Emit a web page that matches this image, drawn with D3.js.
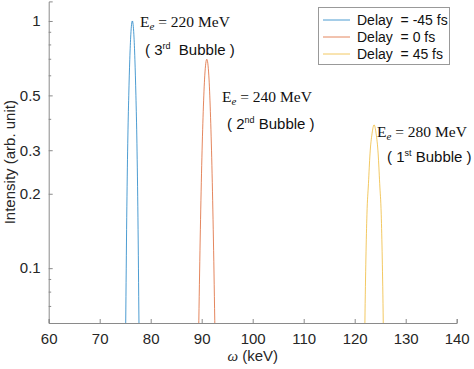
<!DOCTYPE html>
<html><head><meta charset="utf-8">
<script src="https://cdn.jsdelivr.net/npm/d3@7"></script>
<style>body{margin:0;background:#fff}svg{display:block}</style>
</head><body>
<svg id="c" width="474" height="369" font-family='"Liberation Sans",Arial,sans-serif'></svg>
<script>
// Data (omega in keV, intensity arb. unit)
const seriesNames = ["Delay  = -45 fs", "Delay  = 0 fs", "Delay  = 45 fs"];
const blueOmega  = [74.95, 75.1, 75.3, 75.5, 75.7, 75.9, 76.1, 76.4, 76.7, 76.9, 77.1, 77.3, 77.5, 77.7, 77.85];
const blueInt    = [0.03, 0.06, 0.16, 0.32, 0.5, 0.7, 0.88, 1.0, 0.88, 0.7, 0.5, 0.32, 0.16, 0.06, 0.03];
const redOmega   = [89.2, 89.4, 89.7, 90.0, 90.3, 90.6, 91.0, 91.4, 91.7, 92.0, 92.3, 92.6, 92.8];
const redInt     = [0.03, 0.055, 0.13, 0.26, 0.43, 0.6, 0.7, 0.6, 0.43, 0.26, 0.13, 0.055, 0.03];
const yellowOmega= [121.85, 122.0, 122.2, 122.4, 122.7, 123.0, 123.4, 123.8, 124.2, 124.6, 124.9, 125.2, 125.4, 125.6, 125.75];
const yellowInt  = [0.03, 0.06, 0.11, 0.165, 0.22, 0.29, 0.35, 0.38, 0.35, 0.29, 0.22, 0.165, 0.11, 0.06, 0.03];
const xTicks = [60, 70, 80, 90, 100, 110, 120, 130, 140];
const yTicks = [0.1, 0.2, 0.3, 0.5, 1];
const yTickLabels = ["0.1", "0.2", "0.3", "0.5", "1"];
const yMinorTicks = [0.07, 0.08, 0.09, 0.4, 0.6, 0.7, 0.8, 0.9];
const annotations = [
  {energy: "220", order: "3", sup: "rd", gap: "  "},
  {energy: "240", order: "2", sup: "nd", gap: " "},
  {energy: "280", order: "1", sup: "st", gap: " "}
];

const colors = ["#0072BD", "#D95319", "#EDB120"];
const svg = d3.select("#c");
const L = 48.7, R = 456.7, T = 1.4, B = 323;
const x = d3.scaleLinear().domain([60, 140]).range([L, R]);
const y = d3.scaleLog().domain([0.06, 1.2]).range([B, T]);
const axisCol = "#8a8a8a", txtCol = "#262626";
const sans = '"Liberation Sans",Arial,sans-serif';
const serif = '"Liberation Serif","DejaVu Serif",serif';

svg.append("defs").append("clipPath").attr("id", "clip")
  .append("rect").attr("x", L).attr("y", T).attr("width", R - L).attr("height", B - T);

// curves
const series = [
  d3.zip(blueOmega, blueInt), d3.zip(redOmega, redInt), d3.zip(yellowOmega, yellowInt)
];
const line = d3.line().x(d => x(d[0])).y(d => y(d[1])).curve(d3.curveMonotoneX);
svg.append("g").attr("clip-path", "url(#clip)").selectAll("path").data(series).join("path")
  .attr("d", line).attr("fill", "none").attr("stroke", (d, i) => colors[i])
  .attr("stroke-width", 1).attr("stroke-opacity", 0.7);

// x axis
const xa = svg.append("g").attr("transform", `translate(0,${B})`)
  .call(d3.axisBottom(x).tickValues(xTicks).tickSize(-4).tickPadding(7).tickFormat(d3.format("d")));
xa.attr("font-family", sans);
xa.select(".domain").attr("stroke", axisCol);
xa.selectAll(".tick line").attr("stroke", axisCol);
xa.selectAll(".tick text").attr("font-size", 15).attr("fill", txtCol).attr("y", 10);

// y axis
const ya = svg.append("g").attr("transform", `translate(${L},0)`)
  .call(d3.axisLeft(y).tickValues(yTicks).tickSize(-4).tickPadding(8).tickFormat((d, i) => yTickLabels[i]));
ya.attr("font-family", sans);
ya.select(".domain").attr("stroke", axisCol);
ya.selectAll(".tick line").attr("stroke", axisCol);
ya.selectAll(".tick text").attr("font-size", 15).attr("fill", txtCol);
ya.selectAll(".minor").data(yMinorTicks).join("line").attr("class", "minor")
  .attr("x1", 0).attr("x2", 2.5).attr("y1", d => y(d)).attr("y2", d => y(d)).attr("stroke", axisCol);

// axis labels
svg.append("text").attr("x", (L + R) / 2).attr("y", 361).attr("text-anchor", "middle")
  .attr("font-size", 15).attr("fill", txtCol)
  .call(t => { t.append("tspan").attr("font-style", "italic").attr("font-family", serif).text("ω");
               t.append("tspan").text(" (keV)"); });
svg.append("text").attr("transform", `translate(15,${(T + B) / 2}) rotate(-90)`).attr("text-anchor", "middle")
  .attr("font-size", 15).attr("fill", txtCol).text("Intensity (arb. unit)");

// annotations
const annOffsets = [[140, 27, 145, 55], [222, 102, 227, 129], [377, 137, 387, 162]];
annotations.forEach((a, i) => {
  const [ex, ey, bx, by] = annOffsets[i];
  const t = svg.append("text").attr("x", ex).attr("y", ey).attr("font-size", 15.5)
    .attr("font-family", serif).attr("fill", "#111").style("white-space", "pre");
  t.append("tspan").text("E");
  t.append("tspan").attr("font-style", "italic").attr("font-size", 11).attr("dy", 3).text("e");
  t.append("tspan").attr("dy", -3).text(" = " + a.energy + " MeV");
  const b = svg.append("text").attr("x", bx).attr("y", by).attr("font-size", 15).attr("fill", "#111")
    .style("white-space", "pre");
  b.append("tspan").text("( " + a.order);
  b.append("tspan").attr("font-size", 9).attr("dy", -6).text(a.sup);
  b.append("tspan").attr("dy", 6).text(a.gap + "Bubble )");
});

// legend
const lg = svg.append("g");
lg.append("rect").attr("x", 318.5).attr("y", 7.5).attr("width", 131).attr("height", 57)
  .attr("fill", "#fff").attr("stroke", "#999").attr("stroke-width", 1);
seriesNames.forEach((n, i) => {
  const cy = 20 + i * 17;
  lg.append("line").attr("x1", 323).attr("x2", 350).attr("y1", cy).attr("y2", cy)
    .attr("stroke", colors[i]).attr("stroke-width", 1).attr("stroke-opacity", 0.7);
  lg.append("text").attr("x", 357).attr("y", cy + 5).attr("font-size", 14).attr("fill", "#111")
    .style("white-space", "pre").text(n);
});
</script>
</body></html>
